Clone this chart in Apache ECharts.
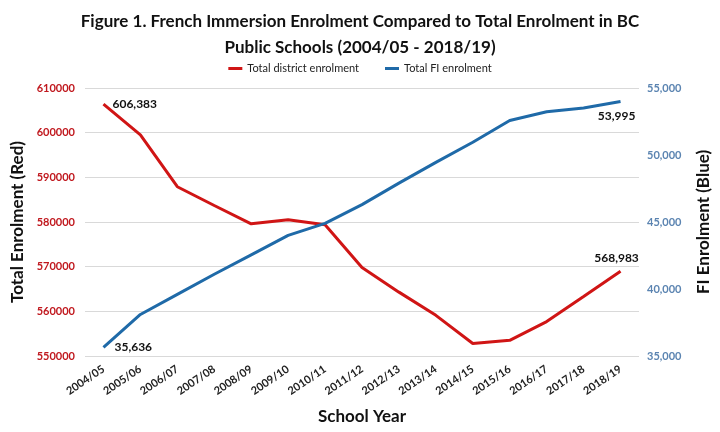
<!DOCTYPE html>
<html>
<head>
<meta charset="utf-8">
<script src="https://cdn.jsdelivr.net/npm/echarts@6/dist/echarts.min.js"></script>
<style>html,body{margin:0;padding:0;background:#fff}#c{width:720px;height:432px}</style>
</head>
<body>
<div id="c"></div>
<script>
const years = ['2004/05','2005/06','2006/07','2007/08','2008/09','2009/10','2010/11','2011/12','2012/13','2013/14','2014/15','2015/16','2016/17','2017/18','2018/19'];
const totalDistrict = [606383,599500,587900,583700,579600,580500,579400,569800,564300,559100,552800,553500,557700,563300,568983];
const totalFI = [35636,38100,39600,41100,42550,44000,44900,46300,47900,49450,50950,52580,53230,53500,53995];
const leftTicks = [550000,560000,570000,580000,590000,600000,610000];
const rightTicks = [35000,40000,45000,50000,55000];

const FONT = 'Lato, "Open Sans", sans-serif';
const RED = '#d01515';
const BLUE = '#1f6aa8';
const lastIdx = years.length - 1;

const chart = echarts.init(document.getElementById('c'));
chart.setOption({
  backgroundColor: '#fff',
  animation: false,
  title: {
    text: 'Figure 1. French Immersion Enrolment Compared to Total Enrolment in BC\nPublic Schools (2004/05 - 2018/19)',
    left: 'center', top: 4,
    textStyle: { fontFamily: FONT, fontSize: 17, fontWeight: 'bold', color: '#111', lineHeight: 26 }
  },
  legend: {
    top: 58, left: 'center', itemWidth: 14, itemHeight: 3, itemGap: 26,
    icon: 'rect',
    textStyle: { fontFamily: FONT, fontSize: 11, color: '#222' },
    data: ['Total district enrolment', 'Total FI enrolment']
  },
  grid: { left: 85, right: 80, top: 88, bottom: 76 },
  xAxis: {
    type: 'category', data: years, boundaryGap: true,
    axisLine: { show: false }, axisTick: { show: false },
    axisLabel: { rotate: 34, interval: 0, fontFamily: FONT, fontSize: 11, fontWeight: 'bold', color: '#222', margin: 12 },
    name: 'School Year', nameLocation: 'middle', nameGap: 52,
    nameTextStyle: { fontFamily: FONT, fontSize: 17, fontWeight: 'bold', color: '#111' }
  },
  yAxis: [
    {
      type: 'value', min: 550000, max: 610000, interval: 10000,
      axisLine: { show: false }, axisTick: { show: false },
      splitLine: { lineStyle: { color: '#d9d9d9' } },
      axisLabel: { fontFamily: FONT, fontSize: 11, fontWeight: 'bold', color: '#c0181e', margin: 10,
        formatter: v => leftTicks.includes(v) ? String(v) : '' },
      name: 'Total Enrolment (Red)', nameLocation: 'middle', nameGap: 50, nameRotate: 90,
      nameTextStyle: { fontFamily: FONT, fontSize: 17, fontWeight: 'bold', color: '#111' }
    },
    {
      type: 'value', min: 35000, max: 55000, interval: 5000,
      axisLine: { show: false }, axisTick: { show: false },
      splitLine: { show: false },
      axisLabel: { fontFamily: FONT, fontSize: 11, fontWeight: 'bold', color: '#5b84b1', margin: 8,
        formatter: v => rightTicks.includes(v) ? v.toLocaleString('en-US') : '' },
      name: 'FI Enrolment (Blue)', nameLocation: 'middle', nameGap: 56, nameRotate: 90,
      nameTextStyle: { fontFamily: FONT, fontSize: 17, fontWeight: 'bold', color: '#111' }
    }
  ],
  series: [
    {
      name: 'Total district enrolment', type: 'line', yAxisIndex: 0,
      data: totalDistrict.map((v, i) => {
        const d = { value: v };
        if (i === 0) d.label = { show: true, position: 'right', offset: [4, 0] };
        if (i === lastIdx) d.label = { show: true, position: 'top', offset: [-4, -2] };
        return d;
      }),
      symbol: 'circle', symbolSize: 0, showSymbol: true,
      lineStyle: { color: RED, width: 3 }, itemStyle: { color: RED },
      label: { show: false, fontFamily: FONT, fontSize: 12, fontWeight: 'bold', color: '#111',
        formatter: p => p.value.toLocaleString('en-US') }
    },
    {
      name: 'Total FI enrolment', type: 'line', yAxisIndex: 1,
      data: totalFI.map((v, i) => {
        const d = { value: v };
        if (i === 0) d.label = { show: true, position: 'right', offset: [6, 0] };
        if (i === lastIdx) d.label = { show: true, position: 'bottom', offset: [-4, 4] };
        return d;
      }),
      symbol: 'circle', symbolSize: 0, showSymbol: true,
      lineStyle: { color: BLUE, width: 3 }, itemStyle: { color: BLUE },
      label: { show: false, fontFamily: FONT, fontSize: 12, fontWeight: 'bold', color: '#111',
        formatter: p => p.value.toLocaleString('en-US') }
    }
  ]
});
</script>
</body>
</html>
